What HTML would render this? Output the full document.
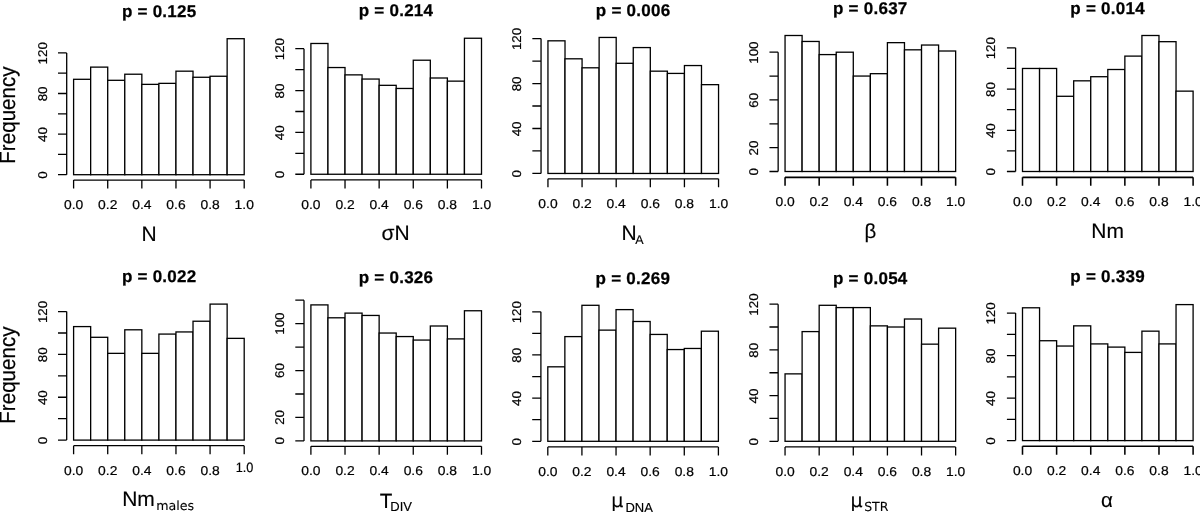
<!DOCTYPE html>
<html><head><meta charset="utf-8"><title>Histograms</title>
<style>
html,body{margin:0;padding:0;background:#fff;}
body{width:1200px;height:512px;overflow:hidden;}
svg{display:block;}
text{font-family:"Liberation Sans","DejaVu Sans",sans-serif;fill:#000;text-rendering:geometricPrecision;}
.ln{fill:#fff;stroke:#000;stroke-width:1.3;}
.ln path{fill:none;}
.tk{font-size:12.9px;stroke:#000;stroke-width:0.2px;}
.ty{font-size:12.7px;}
.tt{font-size:17px;font-weight:bold;stroke:#000;stroke-width:0.25px;letter-spacing:0.25px;}
.xl{font-size:21px;stroke:#000;stroke-width:0.15px;}
.dj{font-family:"DejaVu Sans",sans-serif;stroke:#000;stroke-width:0.1px;}
.fq{font-size:20.6px;stroke:#000;stroke-width:0.2px;}
</style></head><body>
<svg width="1200" height="512" viewBox="0 0 1200 512">
<rect x="0" y="0" width="1200" height="512" fill="#fff"/>
<g class="ln"><rect x="73.6" y="79.3" width="17.06" height="95.4"/><rect x="90.66" y="67.12" width="17.06" height="107.58"/><rect x="107.72" y="80.31" width="17.06" height="94.39"/><rect x="124.78" y="74.22" width="17.06" height="100.48"/><rect x="141.84" y="84.37" width="17.06" height="90.33"/><rect x="158.9" y="83.36" width="17.06" height="91.34"/><rect x="175.96" y="71.18" width="17.06" height="103.52"/><rect x="193.02" y="77.27" width="17.06" height="97.43"/><rect x="210.08" y="76.25" width="17.06" height="98.45"/><rect x="227.14" y="38.7" width="17.06" height="136"/><path d="M66.7 174.7V52.91M66.7 174.7h-8.7M66.7 154.4h-8.7M66.7 134.1h-8.7M66.7 113.8h-8.7M66.7 93.51h-8.7M66.7 73.21h-8.7M66.7 52.91h-8.7"/><path d="M73.6 180.1H244.2M73.6 180.1v8.5M107.72 180.1v8.5M141.84 180.1v8.5M175.96 180.1v8.5M210.08 180.1v8.5M244.2 180.1v8.5"/></g>
<text class="tk ty" text-anchor="middle" transform="translate(47 175.1) rotate(-90) scale(1.05 1)">0</text><text class="tk ty" text-anchor="middle" transform="translate(47 134.5) rotate(-90) scale(1.05 1)">40</text><text class="tk ty" text-anchor="middle" transform="translate(47 93.91) rotate(-90) scale(1.05 1)">80</text><text class="tk ty" text-anchor="middle" transform="translate(47 53.31) rotate(-90) scale(1.05 1)">120</text><text class="tk" text-anchor="middle" transform="translate(73.6 209) scale(1.075 1)">0.0</text><text class="tk" text-anchor="middle" transform="translate(107.72 209) scale(1.075 1)">0.2</text><text class="tk" text-anchor="middle" transform="translate(141.84 209) scale(1.075 1)">0.4</text><text class="tk" text-anchor="middle" transform="translate(175.96 209) scale(1.075 1)">0.6</text><text class="tk" text-anchor="middle" transform="translate(210.08 209) scale(1.075 1)">0.8</text><text class="tk" text-anchor="middle" transform="translate(244.2 209) scale(1.075 1)">1.0</text><text class="tt" text-anchor="middle" x="159.2" y="17.2">p = 0.125</text><text class="xl" text-anchor="middle" x="149" y="240.7">N</text><text class="fq" text-anchor="middle" transform="translate(15 115.05) rotate(-90) scale(1 1.08)">Frequency</text>
<g class="ln"><rect x="310.9" y="43.48" width="17.06" height="130.77"/><rect x="327.96" y="67.54" width="17.06" height="106.71"/><rect x="345.02" y="74.87" width="17.06" height="99.38"/><rect x="362.08" y="79.05" width="17.06" height="95.2"/><rect x="379.14" y="85.33" width="17.06" height="88.92"/><rect x="396.2" y="88.47" width="17.06" height="85.78"/><rect x="413.26" y="60.22" width="17.06" height="114.03"/><rect x="430.32" y="78" width="17.06" height="96.25"/><rect x="447.38" y="81.14" width="17.06" height="93.11"/><rect x="464.44" y="38.25" width="17.06" height="136"/><path d="M304 174.25V48.71M304 174.25h-8.7M304 153.33h-8.7M304 132.4h-8.7M304 111.48h-8.7M304 90.56h-8.7M304 69.63h-8.7M304 48.71h-8.7"/><path d="M310.9 179.9H481.5M310.9 179.9v8.5M345.02 179.9v8.5M379.14 179.9v8.5M413.26 179.9v8.5M447.38 179.9v8.5M481.5 179.9v8.5"/></g>
<text class="tk ty" text-anchor="middle" transform="translate(284.3 174.65) rotate(-90) scale(1.05 1)">0</text><text class="tk ty" text-anchor="middle" transform="translate(284.3 132.8) rotate(-90) scale(1.05 1)">40</text><text class="tk ty" text-anchor="middle" transform="translate(284.3 90.96) rotate(-90) scale(1.05 1)">80</text><text class="tk ty" text-anchor="middle" transform="translate(284.3 49.11) rotate(-90) scale(1.05 1)">120</text><text class="tk" text-anchor="middle" transform="translate(310.9 208.7) scale(1.075 1)">0.0</text><text class="tk" text-anchor="middle" transform="translate(345.02 208.7) scale(1.075 1)">0.2</text><text class="tk" text-anchor="middle" transform="translate(379.14 208.7) scale(1.075 1)">0.4</text><text class="tk" text-anchor="middle" transform="translate(413.26 208.7) scale(1.075 1)">0.6</text><text class="tk" text-anchor="middle" transform="translate(447.38 208.7) scale(1.075 1)">0.8</text><text class="tk" text-anchor="middle" transform="translate(481.5 208.7) scale(1.075 1)">1.0</text><text class="tt" text-anchor="middle" x="396" y="16.35">p = 0.214</text><text class="xl" text-anchor="middle" x="395.5" y="240.25">σN</text>
<g class="ln"><rect x="547.95" y="40.82" width="17.06" height="132.63"/><rect x="565.01" y="58.81" width="17.06" height="114.64"/><rect x="582.07" y="67.8" width="17.06" height="105.65"/><rect x="599.13" y="37.45" width="17.06" height="136"/><rect x="616.19" y="63.3" width="17.06" height="110.15"/><rect x="633.25" y="47.57" width="17.06" height="125.88"/><rect x="650.31" y="71.17" width="17.06" height="102.28"/><rect x="667.37" y="73.42" width="17.06" height="100.03"/><rect x="684.43" y="65.55" width="17.06" height="107.9"/><rect x="701.49" y="84.66" width="17.06" height="88.79"/><path d="M541.05 173.45V38.57M541.05 173.45h-8.7M541.05 150.97h-8.7M541.05 128.49h-8.7M541.05 106.01h-8.7M541.05 83.53h-8.7M541.05 61.05h-8.7M541.05 38.57h-8.7"/><path d="M547.95 178.85H718.55M547.95 178.85v8.5M582.07 178.85v8.5M616.19 178.85v8.5M650.31 178.85v8.5M684.43 178.85v8.5M718.55 178.85v8.5"/></g>
<text class="tk ty" text-anchor="middle" transform="translate(520.7 173.85) rotate(-90) scale(1.05 1)">0</text><text class="tk ty" text-anchor="middle" transform="translate(520.7 128.89) rotate(-90) scale(1.05 1)">40</text><text class="tk ty" text-anchor="middle" transform="translate(520.7 83.93) rotate(-90) scale(1.05 1)">80</text><text class="tk ty" text-anchor="middle" transform="translate(520.7 38.97) rotate(-90) scale(1.05 1)">120</text><text class="tk" text-anchor="middle" transform="translate(547.95 208.2) scale(1.075 1)">0.0</text><text class="tk" text-anchor="middle" transform="translate(582.07 208.2) scale(1.075 1)">0.2</text><text class="tk" text-anchor="middle" transform="translate(616.19 208.2) scale(1.075 1)">0.4</text><text class="tk" text-anchor="middle" transform="translate(650.31 208.2) scale(1.075 1)">0.6</text><text class="tk" text-anchor="middle" transform="translate(684.43 208.2) scale(1.075 1)">0.8</text><text class="tk" text-anchor="middle" transform="translate(718.55 208.2) scale(1.075 1)">1.0</text><text class="tt" text-anchor="middle" x="633.1" y="15.65">p = 0.006</text><text class="xl" style="font-size:21px" x="621.5" y="240.1">N</text><text class="xl" style="font-size:12.5px" x="635.2" y="244.3">A</text>
<g class="ln"><rect x="785.05" y="35.5" width="17.06" height="136"/><rect x="802.11" y="41.46" width="17.06" height="130.04"/><rect x="819.17" y="54.59" width="17.06" height="116.91"/><rect x="836.23" y="52.2" width="17.06" height="119.3"/><rect x="853.29" y="76.06" width="17.06" height="95.44"/><rect x="870.35" y="73.68" width="17.06" height="97.82"/><rect x="887.41" y="42.66" width="17.06" height="128.84"/><rect x="904.47" y="49.82" width="17.06" height="121.68"/><rect x="921.53" y="45.04" width="17.06" height="126.46"/><rect x="938.59" y="51.01" width="17.06" height="120.49"/><path d="M778.15 171.5V52.2M778.15 171.5h-8.7M778.15 147.64h-8.7M778.15 123.78h-8.7M778.15 99.92h-8.7M778.15 76.06h-8.7M778.15 52.2h-8.7"/><path d="M785.05 177.35H955.65M785.05 177.35v8.5M819.17 177.35v8.5M853.29 177.35v8.5M887.41 177.35v8.5M921.53 177.35v8.5M955.65 177.35v8.5" stroke-width="1.55"/></g>
<text class="tk ty" text-anchor="middle" transform="translate(757.75 171.9) rotate(-90) scale(1.05 1)">0</text><text class="tk ty" text-anchor="middle" transform="translate(757.75 148.04) rotate(-90) scale(1.05 1)">20</text><text class="tk ty" text-anchor="middle" transform="translate(757.75 100.32) rotate(-90) scale(1.05 1)">60</text><text class="tk ty" text-anchor="middle" transform="translate(757.75 52.6) rotate(-90) scale(1.05 1)">100</text><text class="tk" text-anchor="middle" transform="translate(785.05 206.4) scale(1.075 1)">0.0</text><text class="tk" text-anchor="middle" transform="translate(819.17 206.4) scale(1.075 1)">0.2</text><text class="tk" text-anchor="middle" transform="translate(853.29 206.4) scale(1.075 1)">0.4</text><text class="tk" text-anchor="middle" transform="translate(887.41 206.4) scale(1.075 1)">0.6</text><text class="tk" text-anchor="middle" transform="translate(921.53 206.4) scale(1.075 1)">0.8</text><text class="tk" text-anchor="middle" transform="translate(955.65 206.4) scale(1.075 1)">1.0</text><text class="tt" text-anchor="middle" x="870.3" y="14.2">p = 0.637</text><text class="xl" style="font-size:20.4px" text-anchor="middle" x="870.3" y="237.5">β</text>
<g class="ln"><rect x="1022.5" y="68.47" width="17.06" height="103.03"/><rect x="1039.56" y="68.47" width="17.06" height="103.03"/><rect x="1056.62" y="96.29" width="17.06" height="75.21"/><rect x="1073.68" y="80.83" width="17.06" height="90.67"/><rect x="1090.74" y="76.71" width="17.06" height="94.79"/><rect x="1107.8" y="69.5" width="17.06" height="102"/><rect x="1124.86" y="56.11" width="17.06" height="115.39"/><rect x="1141.92" y="35.5" width="17.06" height="136"/><rect x="1158.98" y="41.68" width="17.06" height="129.82"/><rect x="1176.04" y="91.14" width="17.06" height="80.36"/><path d="M1015.6 171.5V47.86M1015.6 171.5h-8.7M1015.6 150.89h-8.7M1015.6 130.29h-8.7M1015.6 109.68h-8.7M1015.6 89.08h-8.7M1015.6 68.47h-8.7M1015.6 47.86h-8.7"/><path d="M1022.5 177.35H1193.1M1022.5 177.35v8.5M1056.62 177.35v8.5M1090.74 177.35v8.5M1124.86 177.35v8.5M1158.98 177.35v8.5M1193.1 177.35v8.5" stroke-width="1.55"/></g>
<text class="tk ty" text-anchor="middle" transform="translate(995.2 171.9) rotate(-90) scale(1.05 1)">0</text><text class="tk ty" text-anchor="middle" transform="translate(995.2 130.69) rotate(-90) scale(1.05 1)">40</text><text class="tk ty" text-anchor="middle" transform="translate(995.2 89.48) rotate(-90) scale(1.05 1)">80</text><text class="tk ty" text-anchor="middle" transform="translate(995.2 48.26) rotate(-90) scale(1.05 1)">120</text><text class="tk" text-anchor="middle" transform="translate(1022.5 206.4) scale(1.075 1)">0.0</text><text class="tk" text-anchor="middle" transform="translate(1056.62 206.4) scale(1.075 1)">0.2</text><text class="tk" text-anchor="middle" transform="translate(1090.74 206.4) scale(1.075 1)">0.4</text><text class="tk" text-anchor="middle" transform="translate(1124.86 206.4) scale(1.075 1)">0.6</text><text class="tk" text-anchor="middle" transform="translate(1158.98 206.4) scale(1.075 1)">0.8</text><text class="tk" text-anchor="middle" transform="translate(1193.1 206.4) scale(1.075 1)">1.0</text><text class="tt" text-anchor="middle" x="1107.6" y="14">p = 0.014</text><text class="xl" text-anchor="middle" x="1107.6" y="237.5">Nm</text>
<g class="ln"><rect x="73.6" y="326.59" width="17.06" height="113.51"/><rect x="90.66" y="337.3" width="17.06" height="102.8"/><rect x="107.72" y="353.36" width="17.06" height="86.74"/><rect x="124.78" y="329.8" width="17.06" height="110.3"/><rect x="141.84" y="353.36" width="17.06" height="86.74"/><rect x="158.9" y="334.08" width="17.06" height="106.02"/><rect x="175.96" y="331.94" width="17.06" height="108.16"/><rect x="193.02" y="321.23" width="17.06" height="118.87"/><rect x="210.08" y="304.1" width="17.06" height="136"/><rect x="227.14" y="338.37" width="17.06" height="101.73"/><path d="M66.7 440.1V311.6M66.7 440.1h-8.7M66.7 418.68h-8.7M66.7 397.27h-8.7M66.7 375.85h-8.7M66.7 354.43h-8.7M66.7 333.01h-8.7M66.7 311.6h-8.7"/><path d="M73.6 445.7H244.2M73.6 445.7v8.5M107.72 445.7v8.5M141.84 445.7v8.5M175.96 445.7v8.5M210.08 445.7v8.5M244.2 445.7v8.5"/></g>
<text class="tk ty" text-anchor="middle" transform="translate(47 440.5) rotate(-90) scale(1.05 1)">0</text><text class="tk ty" text-anchor="middle" transform="translate(47 397.67) rotate(-90) scale(1.05 1)">40</text><text class="tk ty" text-anchor="middle" transform="translate(47 354.83) rotate(-90) scale(1.05 1)">80</text><text class="tk ty" text-anchor="middle" transform="translate(47 312) rotate(-90) scale(1.05 1)">120</text><text class="tk" text-anchor="middle" transform="translate(73.6 474.95) scale(1.075 1)">0.0</text><text class="tk" text-anchor="middle" transform="translate(107.72 474.95) scale(1.075 1)">0.2</text><text class="tk" text-anchor="middle" transform="translate(141.84 474.95) scale(1.075 1)">0.4</text><text class="tk" text-anchor="middle" transform="translate(175.96 474.95) scale(1.075 1)">0.6</text><text class="tk" text-anchor="middle" transform="translate(210.08 474.95) scale(1.075 1)">0.8</text><text class="tk" style="font-size:13.5px" text-anchor="middle" transform="translate(244.6 472.35) scale(0.94 1)">1.0</text><text class="tt" text-anchor="middle" x="159.2" y="282.1">p = 0.022</text><text class="xl" style="font-size:21px" x="122.2" y="505.95">Nm</text><text class="dj" style="font-size:12.65px" x="156.2" y="510.2">males</text><text class="fq" text-anchor="middle" transform="translate(15 375.1) rotate(-90) scale(1 1.08)">Frequency</text>
<g class="ln"><rect x="310.9" y="304.9" width="17.06" height="136"/><rect x="327.96" y="317.8" width="17.06" height="123.1"/><rect x="345.02" y="313.11" width="17.06" height="127.79"/><rect x="362.08" y="315.45" width="17.06" height="125.45"/><rect x="379.14" y="333.04" width="17.06" height="107.86"/><rect x="396.2" y="336.56" width="17.06" height="104.34"/><rect x="413.26" y="340.07" width="17.06" height="100.83"/><rect x="430.32" y="326" width="17.06" height="114.9"/><rect x="447.38" y="338.9" width="17.06" height="102"/><rect x="464.44" y="310.76" width="17.06" height="130.14"/><path d="M304 440.9V300.21M304 440.9h-8.7M304 417.45h-8.7M304 394h-8.7M304 370.56h-8.7M304 347.11h-8.7M304 323.66h-8.7M304 300.21h-8.7"/><path d="M310.9 446.35H481.5M310.9 446.35v8.5M345.02 446.35v8.5M379.14 446.35v8.5M413.26 446.35v8.5M447.38 446.35v8.5M481.5 446.35v8.5"/></g>
<text class="tk ty" text-anchor="middle" transform="translate(284.3 440.9) rotate(-90) scale(1.05 1)">0</text><text class="tk ty" text-anchor="middle" transform="translate(284.3 417.45) rotate(-90) scale(1.05 1)">20</text><text class="tk ty" text-anchor="middle" transform="translate(284.3 370.56) rotate(-90) scale(1.05 1)">60</text><text class="tk ty" text-anchor="middle" transform="translate(284.3 323.66) rotate(-90) scale(1.05 1)">100</text><text class="tk" text-anchor="middle" transform="translate(310.9 475.45) scale(1.075 1)">0.0</text><text class="tk" text-anchor="middle" transform="translate(345.02 475.45) scale(1.075 1)">0.2</text><text class="tk" text-anchor="middle" transform="translate(379.14 475.45) scale(1.075 1)">0.4</text><text class="tk" text-anchor="middle" transform="translate(413.26 475.45) scale(1.075 1)">0.6</text><text class="tk" text-anchor="middle" transform="translate(447.38 475.45) scale(1.075 1)">0.8</text><text class="tk" text-anchor="middle" transform="translate(481.5 475.45) scale(1.075 1)">1.0</text><text class="tt" text-anchor="middle" x="396" y="282.8">p = 0.326</text><text class="xl" style="font-size:20.6px" x="379.7" y="507.75">T</text><text class="xl" style="font-size:13px" x="390.3" y="510.9">DIV</text>
<g class="ln"><rect x="547.8" y="366.82" width="17.06" height="74.48"/><rect x="564.86" y="336.6" width="17.06" height="104.7"/><rect x="581.92" y="305.3" width="17.06" height="136"/><rect x="598.98" y="330.13" width="17.06" height="111.17"/><rect x="616.04" y="309.62" width="17.06" height="131.68"/><rect x="633.1" y="321.49" width="17.06" height="119.81"/><rect x="650.16" y="334.44" width="17.06" height="106.86"/><rect x="667.22" y="349.55" width="17.06" height="91.75"/><rect x="684.28" y="348.47" width="17.06" height="92.83"/><rect x="701.34" y="331.2" width="17.06" height="110.1"/><path d="M540.9 441.3V311.78M540.9 441.3h-8.7M540.9 419.71h-8.7M540.9 398.13h-8.7M540.9 376.54h-8.7M540.9 354.95h-8.7M540.9 333.36h-8.7M540.9 311.78h-8.7"/><path d="M547.8 446.95H718.4M547.8 446.95v8.5M581.92 446.95v8.5M616.04 446.95v8.5M650.16 446.95v8.5M684.28 446.95v8.5M718.4 446.95v8.5"/></g>
<text class="tk ty" text-anchor="middle" transform="translate(520.7 441.7) rotate(-90) scale(1.05 1)">0</text><text class="tk ty" text-anchor="middle" transform="translate(520.7 398.53) rotate(-90) scale(1.05 1)">40</text><text class="tk ty" text-anchor="middle" transform="translate(520.7 355.35) rotate(-90) scale(1.05 1)">80</text><text class="tk ty" text-anchor="middle" transform="translate(520.7 312.18) rotate(-90) scale(1.05 1)">120</text><text class="tk" text-anchor="middle" transform="translate(547.8 475.6) scale(1.075 1)">0.0</text><text class="tk" text-anchor="middle" transform="translate(581.92 475.6) scale(1.075 1)">0.2</text><text class="tk" text-anchor="middle" transform="translate(616.04 475.6) scale(1.075 1)">0.4</text><text class="tk" text-anchor="middle" transform="translate(650.16 475.6) scale(1.075 1)">0.6</text><text class="tk" text-anchor="middle" transform="translate(684.28 475.6) scale(1.075 1)">0.8</text><text class="tk" text-anchor="middle" transform="translate(718.4 475.6) scale(1.075 1)">1.0</text><text class="tt" text-anchor="middle" x="632.9" y="283.7">p = 0.269</text><text class="dj" style="font-size:19px" x="611.3" y="506.8">μ</text><text class="xl" style="font-size:13px" x="625.4" y="511.8">DNA</text>
<g class="ln"><rect x="785.05" y="373.87" width="17.06" height="67.43"/><rect x="802.11" y="331.59" width="17.06" height="109.71"/><rect x="819.17" y="305.3" width="17.06" height="136"/><rect x="836.23" y="307.59" width="17.06" height="133.71"/><rect x="853.29" y="307.59" width="17.06" height="133.71"/><rect x="870.35" y="325.87" width="17.06" height="115.43"/><rect x="887.41" y="327.01" width="17.06" height="114.29"/><rect x="904.47" y="319.01" width="17.06" height="122.29"/><rect x="921.53" y="344.16" width="17.06" height="97.14"/><rect x="938.59" y="328.16" width="17.06" height="113.14"/><path d="M778.15 441.3V304.16M778.15 441.3h-8.7M778.15 418.44h-8.7M778.15 395.59h-8.7M778.15 372.73h-8.7M778.15 349.87h-8.7M778.15 327.01h-8.7M778.15 304.16h-8.7"/><path d="M785.05 446.95H955.65M785.05 446.95v8.5M819.17 446.95v8.5M853.29 446.95v8.5M887.41 446.95v8.5M921.53 446.95v8.5M955.65 446.95v8.5"/></g>
<text class="tk ty" text-anchor="middle" transform="translate(757.9 441.7) rotate(-90) scale(1.05 1)">0</text><text class="tk ty" text-anchor="middle" transform="translate(757.9 395.99) rotate(-90) scale(1.05 1)">40</text><text class="tk ty" text-anchor="middle" transform="translate(757.9 350.27) rotate(-90) scale(1.05 1)">80</text><text class="tk ty" text-anchor="middle" transform="translate(757.9 304.56) rotate(-90) scale(1.05 1)">120</text><text class="tk" text-anchor="middle" transform="translate(785.05 475.6) scale(1.075 1)">0.0</text><text class="tk" text-anchor="middle" transform="translate(819.17 475.6) scale(1.075 1)">0.2</text><text class="tk" text-anchor="middle" transform="translate(853.29 475.6) scale(1.075 1)">0.4</text><text class="tk" text-anchor="middle" transform="translate(887.41 475.6) scale(1.075 1)">0.6</text><text class="tk" text-anchor="middle" transform="translate(921.53 475.6) scale(1.075 1)">0.8</text><text class="tk" text-anchor="middle" transform="translate(955.65 475.6) scale(1.075 1)">1.0</text><text class="tt" text-anchor="middle" x="870.3" y="283.7">p = 0.054</text><text class="dj" style="font-size:19px" x="850.5" y="506.8">μ</text><text class="dj" style="font-size:12.5px" x="864.2" y="510.8">STR</text>
<g class="ln"><rect x="1022.5" y="307.79" width="17.06" height="132.81"/><rect x="1039.56" y="340.73" width="17.06" height="99.88"/><rect x="1056.62" y="346.04" width="17.06" height="94.56"/><rect x="1073.68" y="325.85" width="17.06" height="114.75"/><rect x="1090.74" y="343.91" width="17.06" height="96.69"/><rect x="1107.8" y="347.1" width="17.06" height="93.5"/><rect x="1124.86" y="352.41" width="17.06" height="88.19"/><rect x="1141.92" y="331.16" width="17.06" height="109.44"/><rect x="1158.98" y="343.91" width="17.06" height="96.69"/><rect x="1176.04" y="304.6" width="17.06" height="136"/><path d="M1015.6 440.6V313.1M1015.6 440.6h-8.7M1015.6 419.35h-8.7M1015.6 398.1h-8.7M1015.6 376.85h-8.7M1015.6 355.6h-8.7M1015.6 334.35h-8.7M1015.6 313.1h-8.7"/><path d="M1022.5 446.3H1193.1M1022.5 446.3v8.5M1056.62 446.3v8.5M1090.74 446.3v8.5M1124.86 446.3v8.5M1158.98 446.3v8.5M1193.1 446.3v8.5" stroke-width="1.55"/></g>
<text class="tk ty" text-anchor="middle" transform="translate(995.1 441) rotate(-90) scale(1.05 1)">0</text><text class="tk ty" text-anchor="middle" transform="translate(995.1 398.5) rotate(-90) scale(1.05 1)">40</text><text class="tk ty" text-anchor="middle" transform="translate(995.1 356) rotate(-90) scale(1.05 1)">80</text><text class="tk ty" text-anchor="middle" transform="translate(995.1 313.5) rotate(-90) scale(1.05 1)">120</text><text class="tk" text-anchor="middle" transform="translate(1022.5 474.9) scale(1.075 1)">0.0</text><text class="tk" text-anchor="middle" transform="translate(1056.62 474.9) scale(1.075 1)">0.2</text><text class="tk" text-anchor="middle" transform="translate(1090.74 474.9) scale(1.075 1)">0.4</text><text class="tk" text-anchor="middle" transform="translate(1124.86 474.9) scale(1.075 1)">0.6</text><text class="tk" text-anchor="middle" transform="translate(1158.98 474.9) scale(1.075 1)">0.8</text><text class="tk" text-anchor="middle" transform="translate(1193.1 474.9) scale(1.075 1)">1.0</text><text class="tt" text-anchor="middle" x="1107.6" y="282.2">p = 0.339</text><text class="xl" style="font-size:20.5px" text-anchor="middle" x="1106.9" y="506.6">α</text>
</svg>
</body></html>
